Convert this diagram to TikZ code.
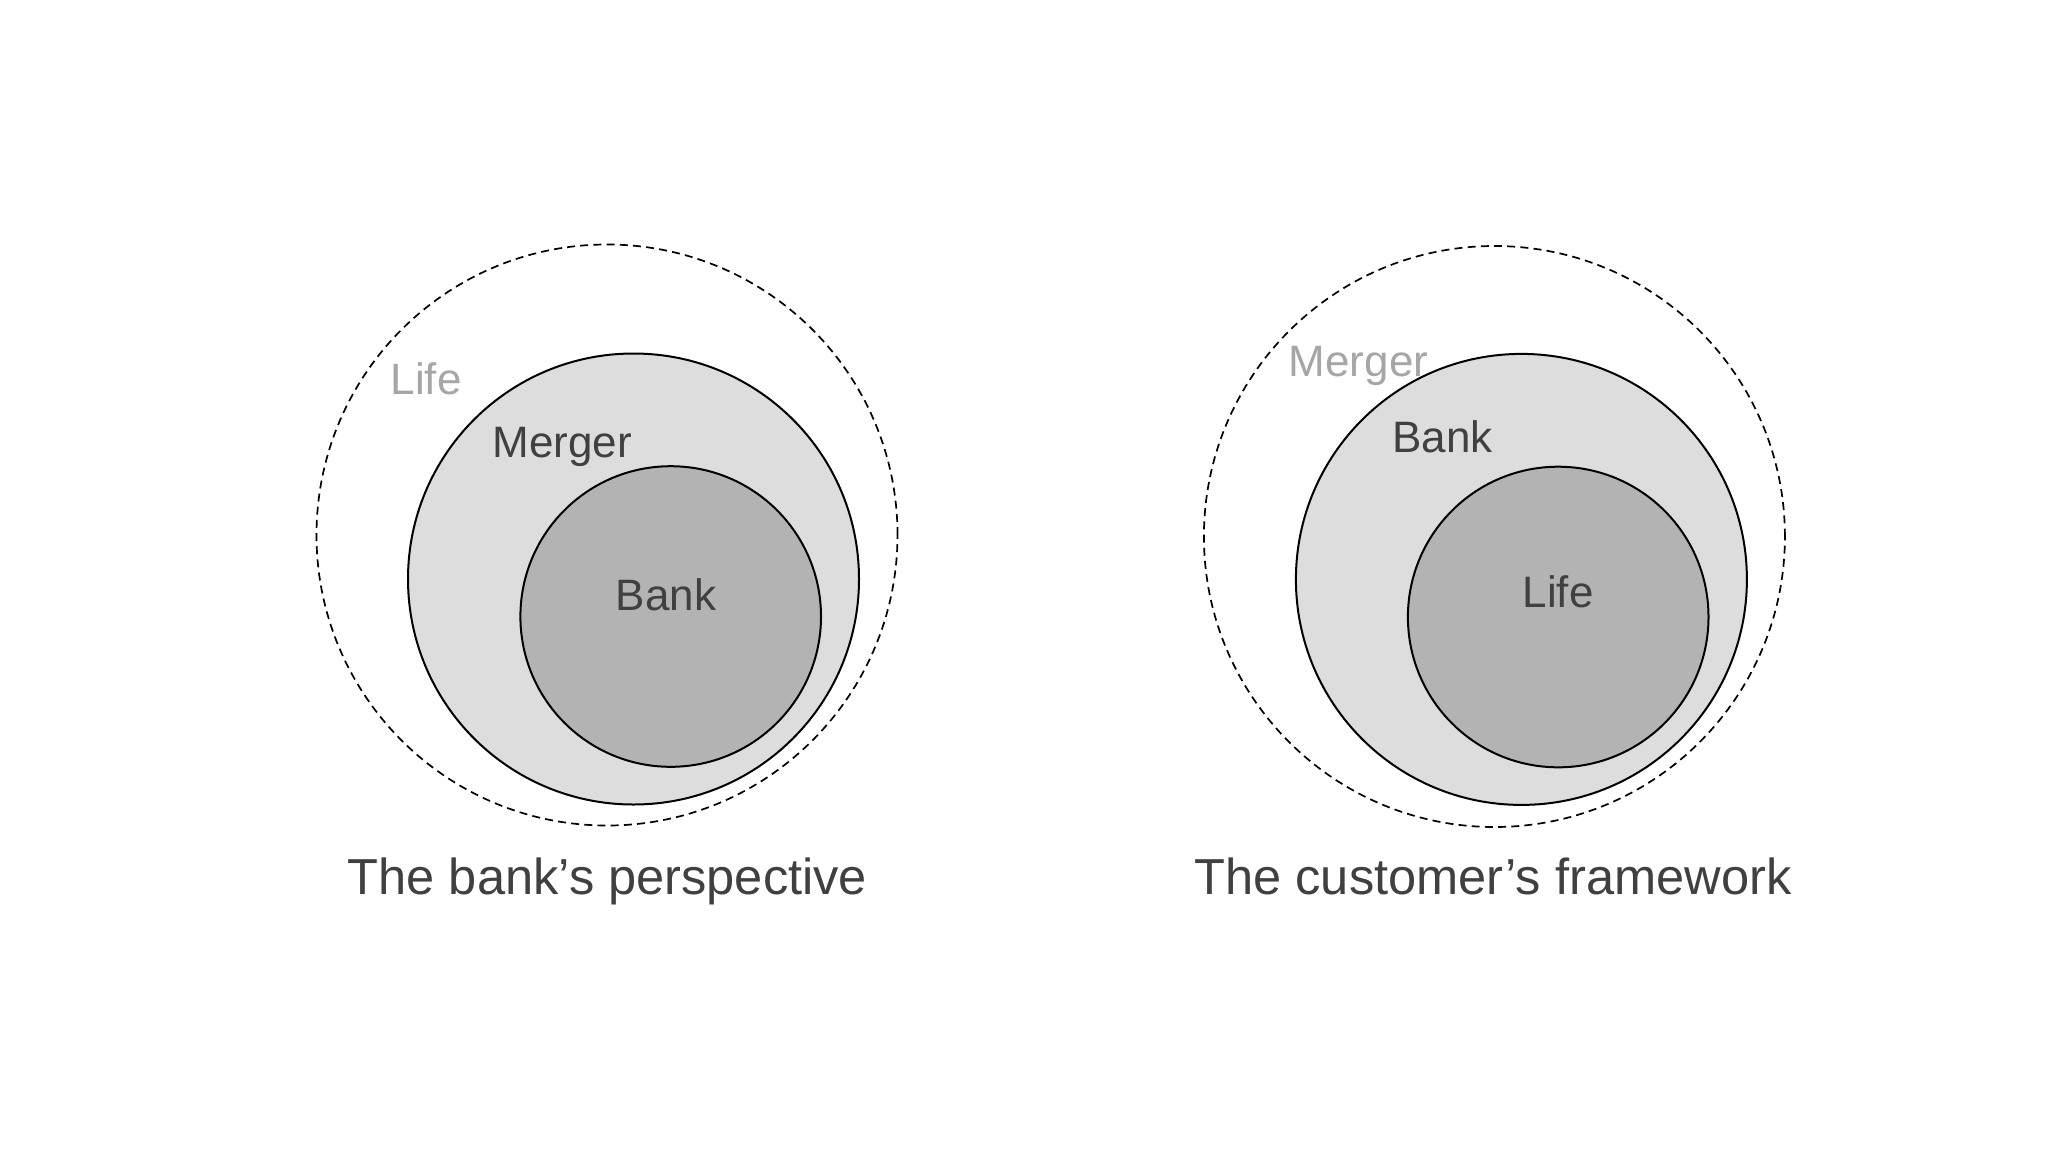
\documentclass[tikz,border=0pt]{standalone}
\usepackage{fontspec}
\setmainfont{Liberation Sans}
\definecolor{outerfill}{HTML}{DDDDDD}
\definecolor{innerfill}{HTML}{B3B3B3}
\definecolor{darktext}{HTML}{404040}
\definecolor{lighttext}{HTML}{A6A6A6}
\begin{document}
\begin{tikzpicture}[x=0.5pt,y=-0.5pt,
  dashcirc/.style={circle,draw=black,line width=0.85pt,dash pattern=on 4pt off 2.6pt,inner sep=0pt},
  midcirc/.style={circle,draw=black,fill=outerfill,line width=1pt,inner sep=0pt},
  incirc/.style={circle,draw=black,fill=innerfill,line width=1pt,inner sep=0pt},
  lbl/.style={font=\fontsize{22}{26}\selectfont,text=darktext,anchor=base,inner sep=0pt},
  lbllight/.style={lbl,text=lighttext},
  ttl/.style={font=\fontsize{25.3}{30}\selectfont,text=darktext,anchor=base,inner sep=0pt}]
\useasboundingbox[fill=white] (0,0) rectangle (2048,1152);
% left diagram
\node[dashcirc,minimum size=290.5pt] (Ldash) at (607,535) {};
\node[midcirc,minimum size=225.5pt] (Lmid) at (633.5,579) {};
\node[incirc,minimum size=150.3pt] (Lin) at (670.7,616.5) {};
\node[lbllight] (Llife) at (426,394) {Life};
\node[lbl] (Lmerger) at (562.3,457.4) {Merger};
\node[lbl] (Lbank) at (666,610.4) {Bank};
\node[ttl] (Ltitle) at (607.5,894) {The bank’s perspective};
% right diagram
\node[dashcirc,minimum size=290.5pt] (Rdash) at (1494.4,536.5) {};
\node[midcirc,minimum size=225.5pt] (Rmid) at (1521.4,579.4) {};
\node[incirc,minimum size=150.3pt] (Rin) at (1558.2,617) {};
\node[lbllight] (Rmerger) at (1358.5,376.3) {Merger};
\node[lbl] (Rbank) at (1442.5,452.2) {Bank};
\node[lbl] (Rlife) at (1558,607.6) {Life};
\node[ttl] (Rtitle) at (1493,894) {The customer’s framework};
\end{tikzpicture}
\end{document}
